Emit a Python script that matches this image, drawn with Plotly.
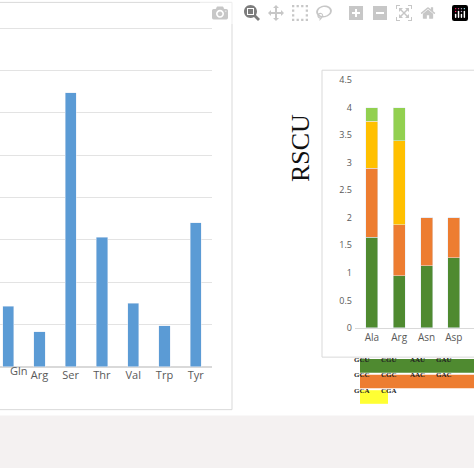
import plotly.graph_objects as go

W = 474
# Left chart (blue bars)
left_cats = ["Gln", "Arg", "Ser", "Thr", "Val", "Trp", "Tyr"]
left_vals = [1.43, 0.83, 6.48, 3.06, 1.5, 0.97, 3.4]

# Right chart (stacked RSCU)
right_cats = ["Ala", "Arg", "Asn", "Asp"]
rscu_c1 = [1.65, 0.95, 1.13, 1.27]
rscu_c2 = [1.25, 0.92, 0.87, 0.73]
rscu_c3 = [0.85, 1.53, 0, 0]
rscu_c4 = [0.25, 0.60, 0, 0]
codons_row1 = ["GCU", "CGU", "AAU", "GAU"]
codons_row2 = ["GCC", "CGC", "AAC", "GAC"]
codons_row3 = ["GCA", "CGA"]

def px(x): return x / W
def py(y): return 1 - y / W

fig = go.Figure()
fig.add_trace(go.Bar(x=list(range(len(left_cats))), y=left_vals, marker_color="#5b9bd5",
                     width=0.36, xaxis="x", yaxis="y", showlegend=False))
cols = ["#4f8a30", "#ed7d31", "#ffc000", "#92d050"]
for vals, c in zip([rscu_c1, rscu_c2, rscu_c3, rscu_c4], cols):
    fig.add_trace(go.Bar(x=list(range(len(right_cats))), y=vals, marker_color=c, width=0.44,
                         xaxis="x2", yaxis="y2", showlegend=False))

shapes = [
    dict(type="rect", xref="paper", yref="paper", x0=0, x1=1, y0=0, y1=py(420),
         fillcolor="#f4f1f1", line_width=0, layer="below"),
    dict(type="rect", xref="paper", yref="paper", x0=-0.01, x1=px(232), y0=py(414), y1=1.01,
         line=dict(color="#d9d9d9", width=1), fillcolor="white", layer="below"),
    dict(type="rect", xref="paper", yref="paper", x0=px(322), x1=1.01, y0=py(360), y1=py(65),
         line=dict(color="#d9d9d9", width=1), fillcolor="white", layer="below"),
]
ann = [dict(text="RSCU", x=px(300), y=py(108), xref="paper", yref="paper", textangle=-90,
            showarrow=False, font=dict(family="Liberation Serif", size=26, color="#111")),
       dict(text=left_cats[0], x=px(8), y=py(384), xref="paper", yref="paper", showarrow=False,
            font=dict(family="Open Sans", size=11, color="#595959"))]
rows = [(codons_row1, 362, 376, "#4f8a30"), (codons_row2, 378, 392, "#ed7d31"), (codons_row3, 394, 408, "#ffff33")]
for labels, y0, y1, c in rows:
    x1 = 474 if len(labels) == 4 else 388
    shapes.append(dict(type="rect", xref="paper", yref="paper", x0=px(360), x1=px(x1),
                       y0=py(y1), y1=py(y0), fillcolor=c, line_width=0))
    for i, t in enumerate(labels):
        ann.append(dict(text="<b>" + t + "</b>", x=px(372 + i * 27.3),
                        y=py((y0 + y1) / 2), xref="paper", yref="paper", showarrow=False,
                        font=dict(family="Liberation Serif", size=7, color="#222")))

fig.update_layout(
    width=W, height=W, margin=dict(l=0, r=0, t=0, b=0),
    paper_bgcolor="white", plot_bgcolor="rgba(0,0,0,0)", barmode="stack",
    shapes=shapes, annotations=ann,
    xaxis=dict(domain=[0, px(212)], range=[-0.26, 6.52], tickvals=list(range(1, 7)), ticktext=left_cats[1:],
               showgrid=False, zeroline=False, showline=False,
               tickfont=dict(family="Open Sans", size=11, color="#595959")),
    yaxis=dict(domain=[py(370), 1], range=[0, 8.5], dtick=1, showticklabels=False,
               gridcolor="#e3e3e3", zeroline=True, zerolinecolor="#d9d9d9"),
    xaxis2=dict(domain=[px(355), 1], range=[-0.62, 3.74], anchor="y2", tickvals=list(range(4)),
                ticktext=right_cats, showgrid=False, zeroline=False, showline=True, linecolor="#d9d9d9",
                tickfont=dict(family="Open Sans", size=10, color="#595959")),
    yaxis2=dict(domain=[py(330), py(75)], range=[0, 4.5], dtick=0.5, anchor="free", position=px(352),
                showgrid=False, zeroline=False,
                tickfont=dict(family="Open Sans", size=9, color="#595959")),
)
fig.write_html("out.html")
with open("out.html") as f:
    html = f.read()
html = html.replace("<body>", "<body style=\"margin:0;overflow:hidden\">", 1)
with open("out.html", "w") as f:
    f.write(html)
